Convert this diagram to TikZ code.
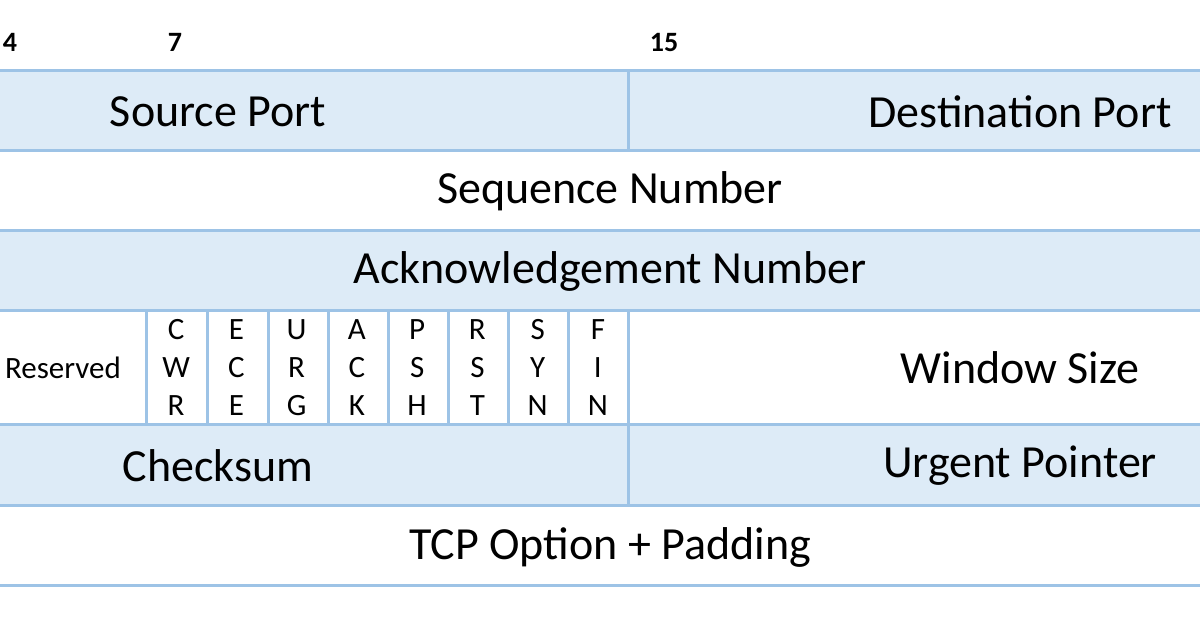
\documentclass[tikz,border=0pt]{standalone}
\usepackage{fontspec}
\setmainfont{Carlito}
\definecolor{ln}{HTML}{9DC3E6}
\definecolor{fl}{HTML}{DDEBF7}
\begin{document}
\begin{tikzpicture}[x=1pt,y=-1pt,
  big/.style={font=\fontsize{46}{46}\selectfont,inner sep=0pt,anchor=center},
  flag/.style={font=\fontsize{31}{31}\selectfont,inner sep=0pt,anchor=center},
  num/.style={font=\fontsize{28}{28}\selectfont\bfseries,inner sep=0pt,anchor=center},
  grid/.style={draw=ln,line width=3pt}]
\useasboundingbox (0,0) rectangle (1200,630);
\fill[white] (0,0) rectangle (1200,630);
\fill[fl] (0,70) rectangle (1200,150);
\fill[fl] (0,230) rectangle (1200,310);
\fill[fl] (0,424) rectangle (1200,505);
\foreach \y in {70,150,230,310,424,505,585} \draw[grid] (0,\y) -- (1200,\y);
\draw[grid] (628,70) -- (628,150);
\draw[grid] (628,424) -- (628,505);
\foreach \x in {146,207,268,328,388,448,508,568,628} \draw[grid] (\x,310) -- (\x,424);
\node[num] (n4) at (10,42) {4};
\node[num] (n7) at (175,42) {7};
\node[num] (n15) at (664,42) {15};
\node[big] (sp) at (218,112) {Source Port};
\node[big] (dp) at (1020,112) {Destination Port};
\node[big] (sn) at (610,191) {Sequence Number};
\node[big] (an) at (610,271) {Acknowledgement Number};
\node[flag] (rs) at (63,368) {Reserved};
\node[big] (ws) at (1020,368) {Window Size};
\node[big] (cs) at (218,466) {Checksum};
\node[big] (up) at (1020,466) {Urgent Pointer};
\node[big] (op) at (610,547) {TCP Option + Padding};
\foreach \a/\b/\c [count=\i] in {C/W/R,E/C/E,U/R/G,A/C/K,P/S/H,R/S/T,S/Y/N,F/I/N}{
  \pgfmathsetmacro\cx{146+60.25*(\i-0.5)}
  \node[flag] (f\i a) at (\cx,330) {\a};
  \node[flag] (f\i b) at (\cx,368) {\b};
  \node[flag] (f\i c) at (\cx,406) {\c};
}
\end{tikzpicture}
\end{document}
